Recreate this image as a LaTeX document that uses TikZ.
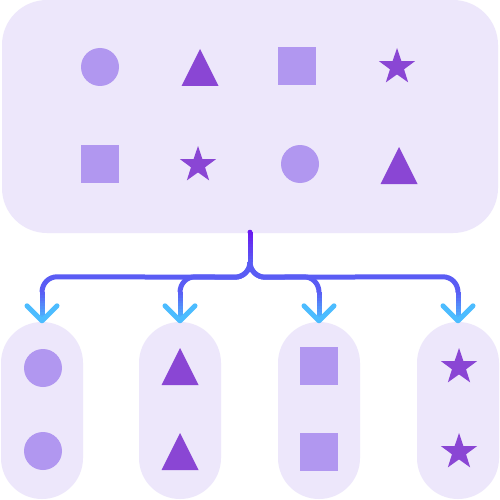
\documentclass[tikz,border=0pt]{standalone}
\usetikzlibrary{calc}
\definecolor{boxbg}{HTML}{EDE7FB}
\definecolor{light}{HTML}{B197F0}
\definecolor{dark}{HTML}{8A46D4}
\definecolor{cTop}{HTML}{6A18F0}
\definecolor{cMid}{HTML}{5A5CF4}
\definecolor{cEnd}{HTML}{4CBCFF}
\tikzset{
  panel/.style={fill=boxbg, draw=none, inner sep=0pt},
  pill/.style={panel, rounded corners=41pt, minimum width=82pt, minimum height=177pt},
  conn/.style={line width=5pt},
  circ/.pic={\fill[light] (0,0) circle (19);},
  sq/.pic={\fill[light] (-19,-19) rectangle (19,19);},
  tri/.pic={\fill[dark] (0,-18.5) -- (18.5,18.5) -- (-18.5,18.5) -- cycle;},
  starpic/.pic={\fill[dark] (-90:19)
     -- (-54:7.4) -- (-18:19) -- (18:7.4) -- (54:19) -- (90:7.4)
     -- (126:19) -- (162:7.4) -- (198:19) -- (234:7.4) -- cycle;}
}
\begin{document}
\begin{tikzpicture}[x=1pt,y=-1pt]
\useasboundingbox (0,0) rectangle (500,500);
\fill[white] (0,0) rectangle (500,500);
% panels
\node[panel, rounded corners=45pt, minimum width=496pt, minimum height=233pt] (top) at (250,116.5) {};
\node[pill] (p1) at (42,410.5) {};
\node[pill] (p2) at (180,410.5) {};
\node[pill] (p3) at (319,410.5) {};
\node[pill] (p4) at (458,410.5) {};
% top shapes
\pic (a1) at (100,67) {circ};
\pic (a2) at (200,67.5) {tri};
\pic (a3) at (297,66.5) {sq};
\pic (a4) at (397,67) {starpic};
\pic (b1) at (100,164) {sq};
\pic (b2) at (198,165) {starpic};
\pic (b3) at (300,164) {circ};
\pic (b4) at (399,165.5) {tri};
% pill shapes
\pic (c1) at (43,368) {circ};
\pic (c2) at (43,451) {circ};
\pic (d1) at (180,366.5) {tri};
\pic (d2) at (180,451.5) {tri};
\pic (e1) at (319,366) {sq};
\pic (e2) at (319,452) {sq};
\pic (f1) at (459,367) {starpic};
\pic (f2) at (459,452) {starpic};
% connectors
\coordinate (S) at ($(top.south)+(0,-1)$);
\coordinate (J) at ($(top.south)+(0,29)$);
\coordinate (H) at ($(top.south)+(0,44)$);
\fill[cTop] (S) circle (2.5);
\foreach \i in {0,...,9}{
  \pgfmathsetmacro\pa{\i/10}
  \pgfmathsetmacro\pb{(\i+1.05)/10}
  \pgfmathtruncatemacro\pc{(\i+0.5)*10}
  \draw[conn, color=cMid!\pc!cTop] ($(S)!\pa!(J)$) -- ($(S)!\pb!(J)$);
}
\foreach \n/\s/\m in {p1/-1/1, p2/-1/1, p3/1/-1, p4/1/-1}{
  \coordinate (\n c) at ($(\n.north)+(0,-45)$);
  \coordinate (\n v) at ($(\n.north)+(0,-30)$);
  \coordinate (\n t) at ($(\n.north)+(0,-1)$);
  \draw[conn, cMid] (J) .. controls ($(J)+(0,8.3)$) and ($(H)+({\s*6.7},0)$) .. ($(H)+({\s*15},0)$)
     -- ($(\n c)+({\m*15},0)$) .. controls ($(\n c)+({\m*6.7},0)$) and ($(\n c)+(0,6.7)$) .. ($(\n v)+(0,0.5)$);
  \foreach \i in {0,...,9}{
    \pgfmathsetmacro\pa{\i/10}
    \pgfmathsetmacro\pb{(\i+1.05)/10}
    \pgfmathtruncatemacro\pc{(\i+0.5)*10}
    \draw[conn, color=cEnd!\pc!cMid] ($(\n v)!\pa!(\n t)$) -- ($(\n v)!\pb!(\n t)$);
  }
  \draw[conn, cEnd, line cap=round, line join=round] ($(\n t)+(-15,-15)$) -- (\n t) -- ($(\n t)+(15,-15)$);
}
\end{tikzpicture}
\end{document}
